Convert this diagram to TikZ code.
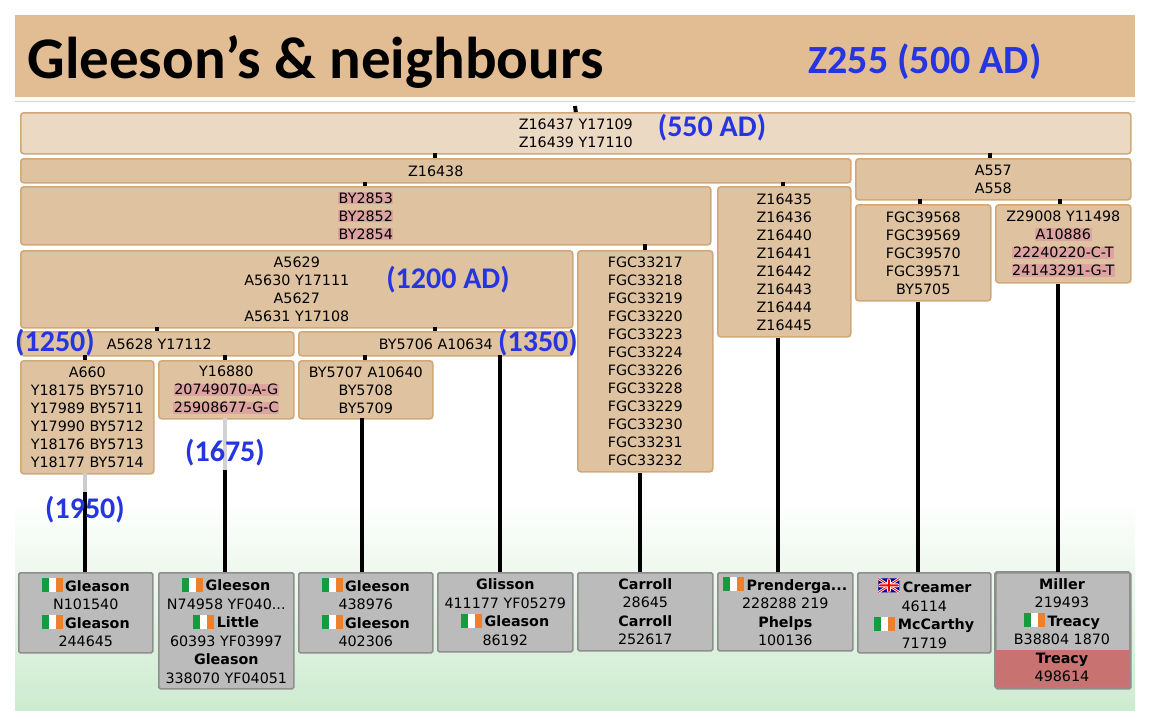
\documentclass[tikz,border=0pt]{standalone}
\usepackage{fontspec}
\setmainfont{DejaVu Sans}
\newfontfamily\calib{Carlito}
\begin{document}
\definecolor{hdr}{HTML}{E2BC93}
\definecolor{boxl}{HTML}{EBD9C4}
\definecolor{boxf}{HTML}{DFC3A0}
\definecolor{boxd}{HTML}{D2A878}
\definecolor{pinkhl}{HTML}{DDA3A0}
\definecolor{grayf}{HTML}{BBBBBB}
\definecolor{grayd}{HTML}{8E8E8E}
\definecolor{redf}{HTML}{C87272}
\definecolor{bgreen}{HTML}{CDEBCF}
\definecolor{lblue}{HTML}{2535E0}
\definecolor{fgr}{HTML}{169B3E}
\definecolor{forg}{HTML}{F07F2A}
\newcommand\hl[1]{{\setlength\fboxsep{0.6pt}\colorbox{pinkhl}{#1}}}
\newcommand\ie{\raisebox{-1pt}{\textcolor{fgr}{\rule{7pt}{14pt}}\textcolor{white}{\rule{7pt}{14pt}}\textcolor{forg}{\rule{7pt}{14pt}}}\,}
\newcommand\uk{\raisebox{-1pt}{\tikz[x=1pt,y=1pt]{\fill[blue!60!black](0,0)rectangle(21,14);\draw[white,line width=2.5pt](0,0)--(21,14)(0,14)--(21,0);\draw[red,line width=0.8pt](0,0)--(21,14)(0,14)--(21,0);\fill[white](8.5,0)rectangle(12.5,14)(0,5)rectangle(21,9);\fill[red](9.5,0)rectangle(11.5,14)(0,6)rectangle(21,8);}}\,}
\begin{tikzpicture}[x=1pt,y=-1pt,
  bx/.style={draw=boxd,fill=boxf,rounded corners=3pt,line width=1.6pt,anchor=north west,align=center,inner sep=0pt,
    font=\fontsize{14.3}{18}\selectfont},
  gb/.style={draw=grayd,fill=grayf,rounded corners=1.5pt,line width=1.6pt,anchor=north west,align=center,inner sep=0pt,
    font=\fontsize{14.3}{18.5}\selectfont},
  lbl/.style={text=lblue,font=\calib\bfseries\fontsize{30}{32}\selectfont},
  ln/.style={line width=4pt,black},
  tick/.style={line width=4pt,black}]
\useasboundingbox (0,0) rectangle (1152,724);
\fill[white] (0,0) rectangle (1152,724);
\fill[white] (15,97) rectangle (1135,500);
\shade[top color=white,bottom color=bgreen] (15,500) rectangle (1135,710);
\fill[hdr] (15,15) rectangle (1135,97);
\draw[hdr!70,line width=1pt] (15,101) -- (1135,101);
\node[anchor=west,font=\calib\bfseries\fontsize{59}{60}\selectfont] (title) at (24,62) {Gleeson’s \& neighbours};
\node[lbl,font=\calib\bfseries\fontsize{40}{42}\selectfont] (z255) at (925,62) {Z255 (500 AD)};
% boxes
\node[bx,fill=boxl,minimum width=1110,minimum height=41] (b1) at (20,112) {Z16437 Y17109\\Z16439 Y17110};
\node[bx,minimum width=830,minimum height=24] (b2) at (20,158) {Z16438};
\node[bx,minimum width=275,minimum height=41] (b3) at (855,158) {A557\\A558};
\node[bx,minimum width=690,minimum height=58] (b4) at (20,186) {\hl{BY2853}\\\hl{BY2852}\\\hl{BY2854}};
\node[bx,minimum width=133,minimum height=150] (b5) at (717,186) {Z16435\\Z16436\\Z16440\\Z16441\\Z16442\\Z16443\\Z16444\\Z16445};
\node[bx,minimum width=135,minimum height=96] (b6) at (855,204) {FGC39568\\FGC39569\\FGC39570\\FGC39571\\BY5705};
\node[bx,minimum width=135,minimum height=78] (b7) at (995,204) {Z29008 Y11498\\\hl{A10886}\\\hl{22240220-C-T}\\\hl{24143291-G-T}};
\node[bx,minimum width=552,minimum height=77] (b8) at (20,250) {A5629\\A5630 Y17111\\A5627\\A5631 Y17108};
\node[bx,minimum width=135,minimum height=221] (b9) at (577,250) {FGC33217\\FGC33218\\FGC33219\\FGC33220\\FGC33223\\FGC33224\\FGC33226\\FGC33228\\FGC33229\\FGC33230\\FGC33231\\FGC33232};
\node[bx,minimum width=273,minimum height=24] (b10) at (20,331) {\hspace*{4pt}A5628 Y17112};
\node[bx,minimum width=274,minimum height=24] (b11) at (298,331) {\hspace*{0pt}BY5706 A10634};
\node[bx,minimum width=133,minimum height=113] (b12) at (20,360) {A660\\Y18175 BY5710\\Y17989 BY5711\\Y17990 BY5712\\Y18176 BY5713\\Y18177 BY5714};
\node[bx,minimum width=135,minimum height=58] (b13) at (158,360) {Y16880\\\hl{20749070-A-G}\\\hl{25908677-G-C}};
\node[bx,minimum width=134,minimum height=58] (b14) at (298,360) {BY5707 A10640\\BY5708\\BY5709};
% bottom boxes
\node[gb,minimum width=134,minimum height=80] (g1) at (18,572) {\ie\textbf{Gleason}\\N101540\\\ie\textbf{Gleason}\\244645};
\node[gb,minimum width=135,minimum height=116] (g2) at (158,572) {\ie\textbf{Gleeson}\\N74958 YF040...\\\ie\textbf{Little}\\60393 YF03997\\\textbf{Gleason}\\338070 YF04051};
\node[gb,minimum width=134,minimum height=80] (g3) at (298,572) {\ie\textbf{Gleeson}\\438976\\\ie\textbf{Gleeson}\\402306};
\node[gb,minimum width=135,minimum height=79] (g4) at (437,572) {\textbf{Glisson}\\411177 YF05279\\\ie\textbf{Gleason}\\86192};
\node[gb,minimum width=135,minimum height=78] (g5) at (577,572) {\textbf{Carroll}\\28645\\\textbf{Carroll}\\252617};
\node[gb,minimum width=135,minimum height=78] (g6) at (717,572) {\ie\textbf{Prenderga...}\\228288 219\\\textbf{Phelps}\\100136};
\node[gb,minimum width=133,minimum height=80] (g7) at (857,572) {\uk\textbf{Creamer}\\46114\\\ie\textbf{McCarthy}\\71719};
\node[gb,minimum width=135,minimum height=116] (g8) at (995,572) {};
\fill[redf] (996,650) rectangle (1129,687);
\draw[grayd,line width=1.6pt,rounded corners=1.5pt] (995,572) rectangle (1130,688);
\node[align=center,font=\fontsize{14.3}{18.5}\selectfont,anchor=north] (g8t) at (1062,575) {\textbf{Miller}\\219493\\\ie\textbf{Treacy}\\B38804 1870\\\textbf{Treacy}\\498614};
% ticks
\draw[tick] (575,106) -- (b1.north);
\draw[tick] (435,153) -- (435,158);
\draw[tick] (990,153) -- (990,158);
\draw[tick] (365,182) -- (365,186);
\draw[tick] (783,182) -- (783,186);
\draw[tick] (920,199) -- (920,204);
\draw[tick] (1060,199) -- (1060,204);
\draw[tick] (157,327) -- (157,331);
\draw[tick] (435,327) -- (435,331);
\draw[tick] (645,244) -- (645,250);
\draw[tick] (85,355) -- (85,360);
\draw[tick] (225,355) -- (225,360);
\draw[tick] (365,355) -- (365,360);
% vertical connectors
\draw[ln] (g1.north -| 85,0) -- (85,473);
\draw[line width=4pt,gray!40] (85,473) -- (85,492);
\draw[ln] (g2.north -| 225,0) -- (225,470);
\draw[line width=4pt,gray!35] (225,470) -- (225,418);
\draw[ln] (g3.north -| 362,0) -- (362,418);
\draw[ln] (g4.north -| 500,0) -- (500,355);
\draw[ln] (g5.north -| 640,0) -- (b9.south -| 640,0);
\draw[ln] (g6.north -| 778,0) -- (b5.south -| 778,0);
\draw[ln] (g7.north -| 918,0) -- (b6.south -| 918,0);
\draw[ln] (g8.north -| 1058,0) -- (b7.south -| 1058,0);
% labels
\node[lbl] (l550) at (712,128) {(550 AD)};
\node[lbl] (l1200) at (448,280) {(1200 AD)};
\node[lbl] (l1250) at (55,343) {(1250)};
\node[lbl] (l1350) at (538,343) {(1350)};
\node[lbl] (l1675) at (225,453) {(1675)};
\node[lbl] (l1950) at (85,510) {(1950)};
\end{tikzpicture}
\end{document}
